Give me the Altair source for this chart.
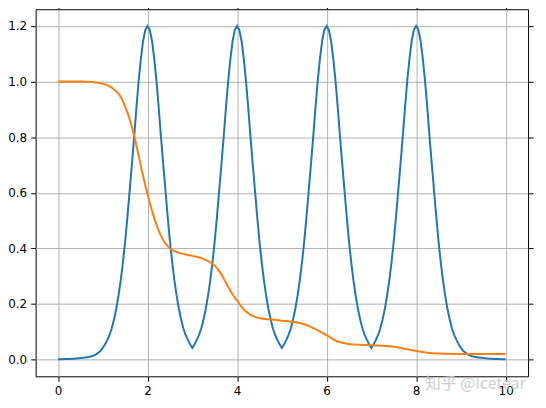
import altair as alt
import pandas as pd

# ---- data ----
blue_y = [
    0.0012, 0.0014, 0.0016, 0.0019, 0.0022, 0.0026, 0.003, 0.0035, 0.004, 0.0047,
    0.0055, 0.0065, 0.0075, 0.0087, 0.010, 0.012, 0.015, 0.019, 0.025, 0.032,
    0.042, 0.055, 0.071, 0.089, 0.112, 0.144, 0.182, 0.229, 0.284, 0.35,
    0.425, 0.513, 0.608, 0.702, 0.8, 0.904, 1.0, 1.081, 1.146, 1.186, 1.2,
    1.186, 1.146, 1.081, 1.0, 0.904, 0.8, 0.702, 0.608, 0.513, 0.425,
    0.35, 0.284, 0.229, 0.182, 0.144, 0.112, 0.089, 0.071, 0.055, 0.042,
    0.055, 0.071, 0.089, 0.112, 0.144, 0.182, 0.229, 0.284, 0.35, 0.425,
    0.513, 0.608, 0.702, 0.8, 0.904, 1.0, 1.081, 1.146, 1.186, 1.2,
    1.186, 1.146, 1.081, 1.0, 0.904, 0.8, 0.702, 0.608, 0.513, 0.425,
    0.35, 0.284, 0.229, 0.182, 0.144, 0.112, 0.089, 0.071, 0.055, 0.042,
    0.055, 0.071, 0.089, 0.112, 0.144, 0.182, 0.229, 0.284, 0.35, 0.425,
    0.513, 0.608, 0.702, 0.8, 0.904, 1.0, 1.081, 1.146, 1.186, 1.2,
    1.186, 1.146, 1.081, 1.0, 0.904, 0.8, 0.702, 0.608, 0.513, 0.425,
    0.35, 0.284, 0.229, 0.182, 0.144, 0.112, 0.089, 0.071, 0.055, 0.042,
    0.055, 0.071, 0.089, 0.112, 0.144, 0.182, 0.229, 0.284, 0.35, 0.425,
    0.513, 0.608, 0.702, 0.8, 0.904, 1.0, 1.081, 1.146, 1.186, 1.2,
    1.186, 1.146, 1.081, 1.0, 0.904, 0.8, 0.702, 0.608, 0.513, 0.425,
    0.35, 0.284, 0.229, 0.182, 0.144, 0.112, 0.089, 0.071, 0.055, 0.042,
    0.032, 0.025, 0.019, 0.015, 0.012, 0.010, 0.0087, 0.0075, 0.0065, 0.0055,
    0.0047, 0.004, 0.0035, 0.003, 0.0026, 0.0022, 0.0019, 0.0016, 0.0014, 0.0012,
]
blue_x = [round(i * 0.05, 2) for i in range(len(blue_y))]

orange_x = [0.0, 0.25, 0.5, 0.75, 1.0, 1.2, 1.4, 1.5, 1.6, 1.7, 1.8, 1.9, 2.0,
            2.1, 2.2, 2.3, 2.4, 2.5, 2.6, 2.75, 3.0, 3.2, 3.4, 3.5, 3.6, 3.7,
            3.8, 3.9, 4.0, 4.1, 4.2, 4.3, 4.5, 4.75, 5.0, 5.25, 5.5, 5.75, 6.0,
            6.25, 6.5, 6.75, 7.0, 7.25, 7.5, 7.75, 8.0, 8.25, 8.5, 8.75, 9.0, 10.0]
orange_y = [1.0, 1.0, 1.0, 0.998, 0.992, 0.978, 0.945, 0.91, 0.865, 0.805, 0.735,
            0.66, 0.595, 0.535, 0.485, 0.445, 0.418, 0.40, 0.39, 0.382, 0.373,
            0.365, 0.35, 0.338, 0.318, 0.292, 0.262, 0.234, 0.212, 0.19, 0.173,
            0.161, 0.149, 0.144, 0.14, 0.136, 0.127, 0.11, 0.088, 0.065, 0.056,
            0.053, 0.052, 0.05, 0.046, 0.039, 0.031, 0.025, 0.022, 0.021, 0.02, 0.02]

x_ticks = [0, 2, 4, 6, 8, 10]
y_ticks = [0.0, 0.2, 0.4, 0.6, 0.8, 1.0, 1.2]
watermark = "知乎 @Icetear"

df_b = pd.DataFrame({"x": blue_x, "y": blue_y})
df_o = pd.DataFrame({"x": orange_x, "y": orange_y})

xs = alt.Scale(domain=[-0.5, 10.5], nice=False, zero=False)
ys = alt.Scale(domain=[-0.06, 1.26], nice=False, zero=False)

common = dict(tickColor="black", tickWidth=1, tickSize=5, domain=False,
              labelFont="DejaVu Sans", labelFontSize=12, labelColor="black",
              title=None, gridColor="#b0b0b0", gridWidth=1)

ax_bottom = alt.Axis(orient="bottom", values=x_ticks, grid=True, labelPadding=4, **common)
ax_left = alt.Axis(orient="left", values=y_ticks, grid=True, format=".1f", labelPadding=4, **common)
ax_top = alt.Axis(orient="top", values=x_ticks, grid=False, labels=False, **common)
ax_right = alt.Axis(orient="right", values=y_ticks, grid=False, labels=False, **common)

blue = alt.Chart(df_b).mark_line(color="#1f77b4", strokeWidth=2).encode(
    x=alt.X("x:Q", scale=xs, axis=ax_bottom),
    y=alt.Y("y:Q", scale=ys, axis=ax_left),
)
orange = alt.Chart(df_o).mark_line(color="#ff7f0e", strokeWidth=2, interpolate="monotone").encode(
    x=alt.X("x:Q", scale=xs, axis=ax_top),
    y=alt.Y("y:Q", scale=ys, axis=ax_right),
)
wm = alt.Chart(pd.DataFrame({"t": [watermark]})).mark_text(
    font="Noto Sans CJK SC", fontSize=16, color="#c8c8c8", opacity=0.9,
    align="center", baseline="middle"
).encode(text="t:N", x=alt.value(442), y=alt.value(377))

chart = alt.layer(blue, orange, wm).resolve_axis(
    x="independent", y="independent"
).properties(
    width=495, height=369,
    padding={"left": 27.8, "top": 0.2, "right": 10, "bottom": 30},
    autosize=alt.AutoSizeParams(type="none"),
).configure_view(stroke="black", strokeWidth=1)

chart.save("out.html", embed_options={"renderer": "svg", "actions": False})
